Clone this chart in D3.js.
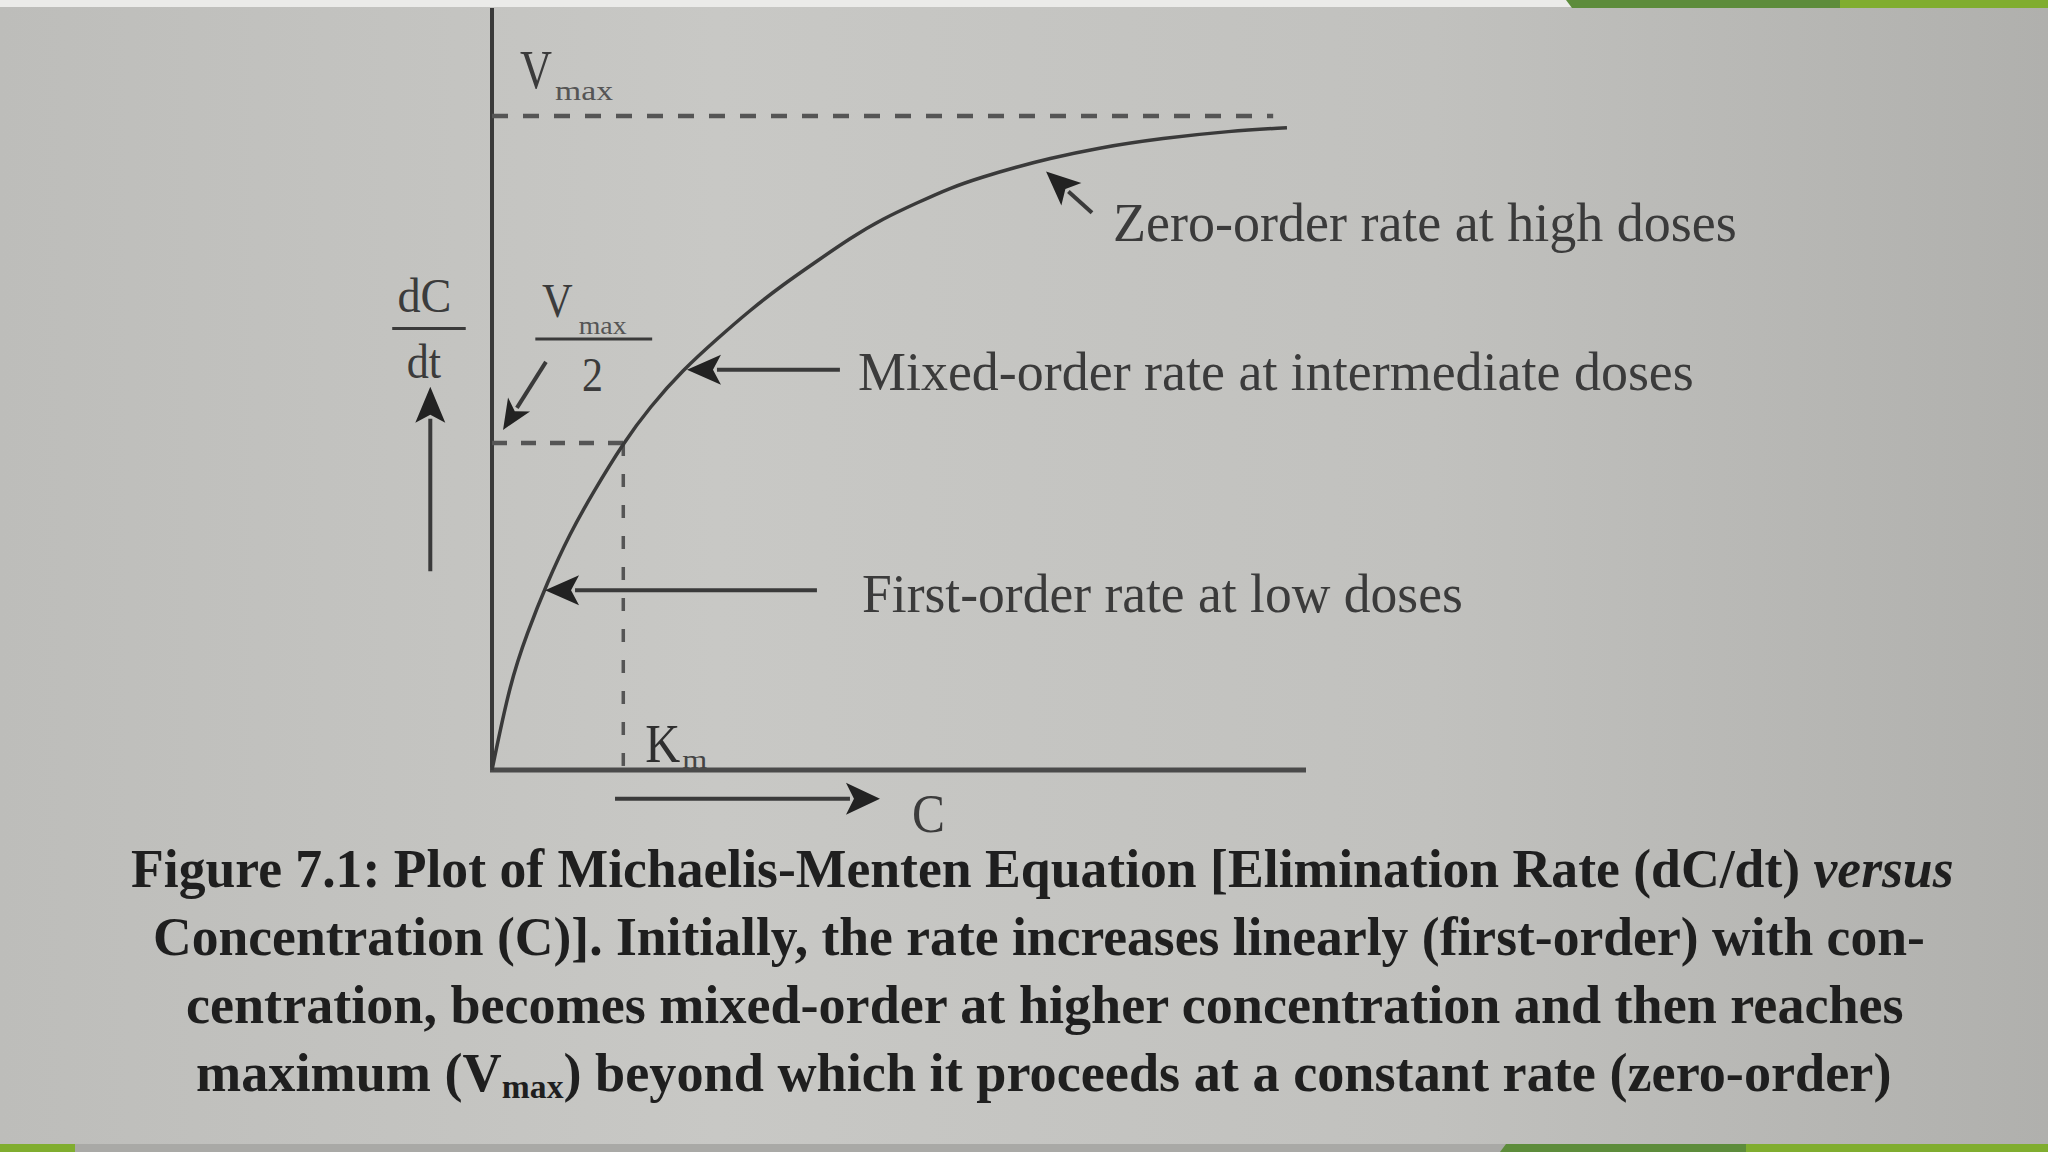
<!DOCTYPE html>
<html>
<head>
<meta charset="utf-8">
<script src="https://cdn.jsdelivr.net/npm/d3@7.9.0/dist/d3.min.js"></script>
<style>
  html, body { margin: 0; padding: 0; background: #c4c4c1; }
  svg { display: block; }
</style>
</head>
<body>
<svg id="chart" width="2048" height="1152"></svg>
<script>
// curve: C in units of Km, rate in units of Vmax
const concentration = [0, 0.137, 0.267, 0.419, 0.594, 0.769, 1.0, 1.203, 1.455, 1.714, 1.965,
  2.216, 2.475, 2.727, 2.978, 3.237, 3.488, 3.74, 3.998, 4.227, 4.608, 5.11, 5.621, 6.055];
const rate = [0, 0.133, 0.209, 0.286, 0.362, 0.424, 0.5, 0.555, 0.612, 0.659, 0.703,
  0.742, 0.778, 0.813, 0.843, 0.867, 0.89, 0.907, 0.922, 0.934, 0.951, 0.966, 0.977, 0.982];

const vmax = 1;
const km = 1;

// annotation arrows pointing at the curve
const noteLabels = ['Zero-order rate at high doses', 'Mixed-order rate at intermediate doses', 'First-order rate at low doses'];
const noteTipC = [4.22, 1.485, 0.404];
const noteTipV = [0.915, 0.612, 0.275];
const noteTailC = [4.57, 2.65, 2.475];
const noteTailV = [0.852, 0.612, 0.275];

const captionLines = [
  [['Figure 7.1: Plot of Michaelis-Menten Equation [Elimination Rate (dC/dt) ', ''], ['versus', 'italic']],
  [['Concentration (C)]. Initially, the rate increases linearly (first-order) with con-', '']],
  [['centration, becomes mixed-order at higher concentration and then reaches', '']],
  [['maximum (V', ''], ['max', 'sub'], [') beyond which it proceeds at a constant rate (zero-order)', '']]
];

const svg = d3.select('#chart');
const W = 2048, H = 1152;
const ink = '#3a3a3a';
const font = '"Liberation Serif", "DejaVu Serif", serif';

// paper background
const defs = svg.append('defs');
const grad = defs.append('linearGradient').attr('id', 'paper');
grad.append('stop').attr('offset', '0').attr('stop-color', '#bdbdba');
grad.append('stop').attr('offset', '0.35').attr('stop-color', '#c8c8c5');
grad.append('stop').attr('offset', '0.7').attr('stop-color', '#c1c1be');
grad.append('stop').attr('offset', '1').attr('stop-color', '#b0b0ad');
svg.append('rect').attr('width', W).attr('height', H).attr('fill', 'url(#paper)');

// strips at the top and bottom edges of the photo
svg.append('rect').attr('x', 0).attr('y', 0).attr('width', 1572).attr('height', 7).attr('fill', '#ebebe9');
svg.append('path').attr('d', 'M1566,0H1840V8H1572Z').attr('fill', '#5d8c3b');
svg.append('rect').attr('x', 1840).attr('y', 0).attr('width', 208).attr('height', 8).attr('fill', '#80ad2f');
svg.append('rect').attr('x', 0).attr('y', 1144).attr('width', W).attr('height', 8).attr('fill', '#a9a9a6');
svg.append('rect').attr('x', 0).attr('y', 1144).attr('width', 75).attr('height', 8).attr('fill', '#80ad2f');
svg.append('path').attr('d', 'M1506,1144H1746V1152H1500Z').attr('fill', '#5d8c3b');
svg.append('rect').attr('x', 1746).attr('y', 1144).attr('width', 302).attr('height', 8).attr('fill', '#80ad2f');

const x = d3.scaleLinear().domain([0, 6.2]).range([492, 1306]);
const y = d3.scaleLinear().domain([0, 1.165]).range([770, 8]);

const g = svg.append('g');

// axes: plain lines with no ticks
g.append('line')
  .attr('x1', x(0)).attr('x2', x(0)).attr('y1', y(1.165)).attr('y2', y(0) + 2)
  .attr('stroke', ink).attr('stroke-width', 4);
g.append('line')
  .attr('x1', x(0) - 2).attr('x2', x(6.2)).attr('y1', y(0)).attr('y2', y(0))
  .attr('stroke', '#4a4a4a').attr('stroke-width', 5);

// reference dashes
g.append('line')
  .attr('x1', x(0)).attr('x2', x(5.95)).attr('y1', y(vmax)).attr('y2', y(vmax))
  .attr('stroke', '#555').attr('stroke-width', 4.5).attr('stroke-dasharray', '16,15');
g.append('line')
  .attr('x1', x(0)).attr('x2', x(km)).attr('y1', y(vmax / 2)).attr('y2', y(vmax / 2))
  .attr('stroke', '#555').attr('stroke-width', 4.5).attr('stroke-dasharray', '15,14');
g.append('line')
  .attr('x1', x(km)).attr('x2', x(km)).attr('y1', y(vmax / 2)).attr('y2', y(0))
  .attr('stroke', '#555').attr('stroke-width', 3.5).attr('stroke-dasharray', '13,18');

// the curve
const points = concentration.map((c, i) => [c, rate[i]]);
const line = d3.line().x((d) => x(d[0])).y((d) => y(d[1])).curve(d3.curveBasis);
g.append('path')
  .attr('d', line(points))
  .attr('fill', 'none').attr('stroke', ink).attr('stroke-width', 3.5);

function arrow(x1, y1, x2, y2, len, half) {
  const dx = x2 - x1, dy = y2 - y1;
  const d = Math.hypot(dx, dy);
  const ux = dx / d, uy = dy / d;
  const bx = x2 - ux * len, by = y2 - uy * len;
  g.append('line')
    .attr('x1', x1).attr('y1', y1).attr('x2', bx + ux * 4).attr('y2', by + uy * 4)
    .attr('stroke', ink).attr('stroke-width', 4);
  g.append('path')
    .attr('d', `M${x2},${y2}L${bx - uy * half},${by + ux * half}L${bx + ux * 8},${by + uy * 8}L${bx + uy * half},${by - ux * half}Z`)
    .attr('fill', '#222');
}

noteLabels.forEach((label, i) => {
  arrow(x(noteTailC[i]), y(noteTailV[i]), x(noteTipC[i]), y(noteTipV[i]), 34, 15);
});
// Vmax/2 pointer, y axis pointer, x axis pointer
arrow(x(0.411), y(0.624), x(0.084), y(0.52), 30, 13);
arrow(x(-0.47), y(0.304), x(-0.47), y(0.586), 36, 15);
arrow(x(0.937), y(-0.044), x(2.955), y(-0.044), 34, 16);

// fit a text element to a target width by horizontal scaling
function fitText(sel, x0, base, width) {
  const w = sel.node().getBBox().width;
  sel.attr('transform', `translate(${x0},${base}) scale(${width / w},1)`);
}

function label(parts, x0, base, width, size, color, weight) {
  const t = svg.append('text')
    .attr('font-family', font).attr('font-size', size)
    .attr('font-weight', weight || 'normal').attr('fill', color);
  parts.forEach(([txt, style]) => {
    const s = t.append('tspan').text(txt);
    if (style === 'italic') s.attr('font-style', 'italic');
    if (style === 'sub') s.attr('font-size', size * 0.62).attr('baseline-shift', '-22%');
  });
  fitText(t, x0, base, width);
  return t;
}

const labelX = [1113, 858, 862];
const labelBase = [241, 390, 612];
const labelW = [624, 836, 601];
noteLabels.forEach((txt, i) => label([[txt, '']], labelX[i], labelBase[i], labelW[i], 55, '#3b3b3b'));

// symbol labels
label([['V', '']], x(0) + 28, y(vmax) - 28, 32, 54, '#3b3b3b');
label([['max', '']], x(0) + 63, y(vmax) - 16, 58, 28, '#555');

label([['dC', '']], x(-0.72), y(0.7), 54, 48, '#3b3b3b');
g.append('line').attr('x1', x(-0.76)).attr('x2', x(-0.2)).attr('y1', y(0.675)).attr('y2', y(0.675))
  .attr('stroke', ink).attr('stroke-width', 3);
label([['dt', '']], x(-0.65), y(0.6), 35, 48, '#3b3b3b');

label([['V', '']], x(0.38), y(0.693), 31, 48, '#3b3b3b');
label([['max', '']], x(0.66), y(0.667), 48, 26, '#555');
g.append('line').attr('x1', x(0.33)).attr('x2', x(1.22)).attr('y1', y(0.659)).attr('y2', y(0.659))
  .attr('stroke', ink).attr('stroke-width', 3);
label([['2', '']], x(0.685), y(0.58), 21, 48, '#3b3b3b');

label([['K', '']], x(km) + 22, y(0) - 8, 35, 54, '#2f2f2f');
label([['m', '']], x(km) + 59, y(0) - 2, 25, 26, '#444');
label([['C', '']], 912, 832, 33, 54, '#3b3b3b');

// caption
const capX = [131, 153, 186, 196];
const capBase = [887, 955, 1023, 1091];
const capW = [1823, 1772, 1718, 1696];
captionLines.forEach((parts, i) => label(parts, capX[i], capBase[i], capW[i], 54, '#1f1f1f', 'bold'));
</script>
</body>
</html>
